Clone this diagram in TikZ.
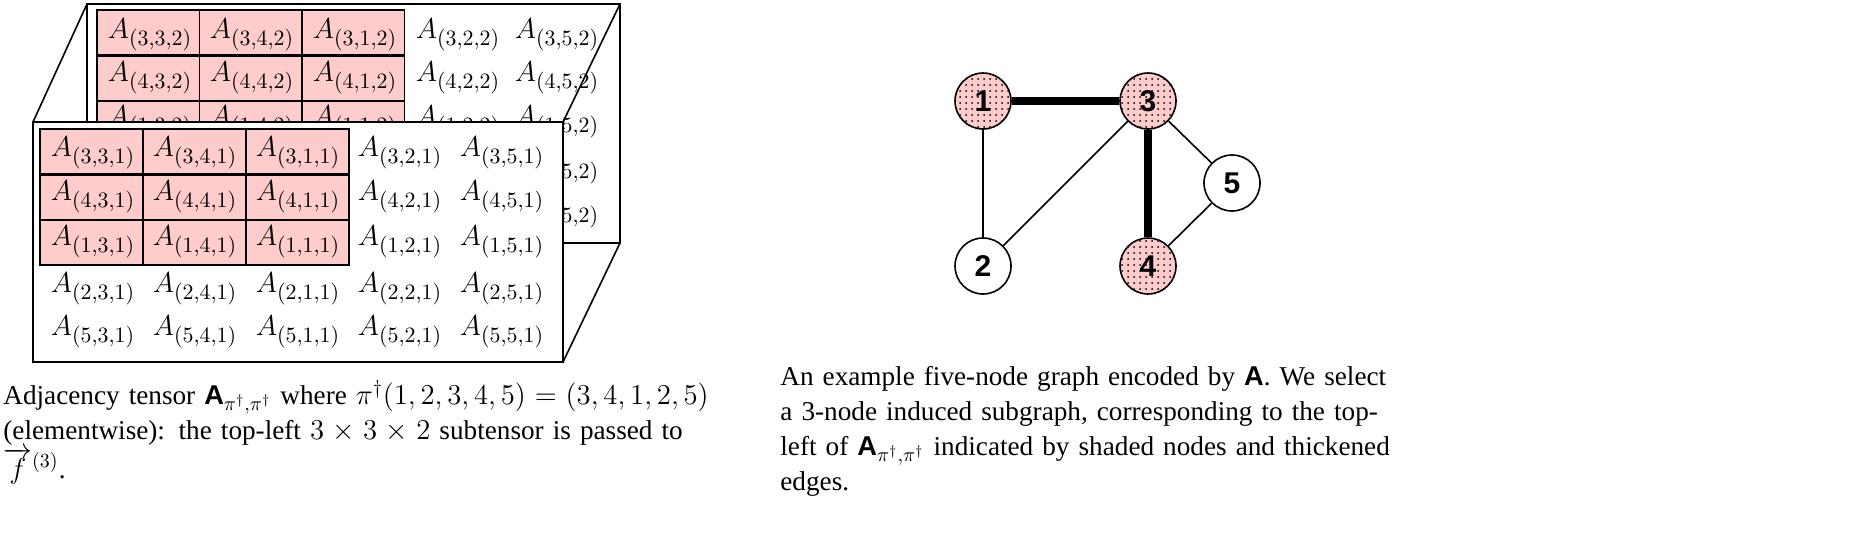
\documentclass[tikz,border=0pt]{standalone}
\usepackage{fontspec}
\usepackage{amsmath}
\setmainfont{Liberation Serif}
\setsansfont{Liberation Sans}
\usetikzlibrary{patterns}
\definecolor{shade}{RGB}{255,204,204}
\begin{document}
\begin{tikzpicture}[x=0.5pt,y=-0.5pt,
  frame/.style={draw,line width=0.8pt},
  cell/.style={draw,fill=shade,line width=0.9pt},
  ent/.style={font=\fontsize{15.5}{17}\selectfont,inner sep=0pt},
  gn/.style={circle,draw,line width=0.8pt,minimum size=28pt,inner sep=0pt,font=\fontsize{15}{15}\selectfont\sffamily\bfseries,fill=white},
  sel/.style={gn,fill=shade,postaction={pattern=dots}},
  ledge/.style={line width=0.8pt},
  hedge/.style={line width=3.6pt},
  captext/.style={font=\fontsize{13.6}{17.5}\selectfont,inner sep=0pt,anchor=north west}]
\useasboundingbox (0,0) rectangle (1855,541);
% back slice
\draw[frame,fill=white] (87,4) rectangle (620,243);
\foreach \r/\y in {0/10,1/56,2/101}{\foreach \c in {0,1,2}{
  \path[cell] (97+\c*102.5,\y) rectangle (97+\c*102.5+102.5,\y+45);}}
\foreach \i/\ri/\y in {3/1/35,4/2/78,1/3/122,2/4/168,5/5/212}{
  \foreach \j/\cj/\x in {3/1/150,4/2/252,1/3/355,2/4/458,5/5/557}{
    \node[ent] (b\ri\cj) at (\x,\y) {$A_{(\i,\j,2)}$};}}
% depth edges
\draw[frame] (33,122) -- (87,4);
\draw[frame] (563,122) -- (620,4);
\draw[frame] (563,362) -- (620,243);
% front slice
\draw[frame,fill=white] (33,122) rectangle (563,362);
\foreach \y in {129,175,220}{\foreach \c in {0,1,2}{
  \path[cell] (40+\c*103,\y) rectangle (40+\c*103+103,\y+45);}}
\foreach \i/\ri/\y in {3/1/153,4/2/197,1/3/242,2/4/289,5/5/332}{
  \foreach \j/\cj/\x in {3/1/93,4/2/195,1/3/298,2/4/400,5/5/502}{
    \node[ent] (f\ri\cj) at (\x,\y) {$A_{(\i,\j,1)}$};}}
% captions
\node[captext,text width=356pt] (lcap) at (3,380) {Adjacency tensor $\textsf{\textbf{A}}_{\pi^\dagger,\pi^\dagger}$ where $\pi^\dagger(1,2,3,4,5) = (3,4,1,2,5)$ (elementwise): the top-left $3\times3\times2$ subtensor is passed to $\overrightarrow{f}^{(3)}$.};
\node[captext,text width=316pt] (rcap) at (780,366) {An example five-node graph encoded by \textsf{\textbf{A}}. We select a 3-node induced subgraph, corresponding to the top-left of $\textsf{\textbf{A}}_{\pi^\dagger,\pi^\dagger}$ indicated by shaded nodes and thickened edges.};
% graph
\node[sel] (n1) at (983,101) {1};
\node[sel] (n3) at (1148,101) {3};
\node[gn] (n5) at (1232,183) {5};
\node[gn] (n2) at (983,266) {2};
\node[sel] (n4) at (1148,266) {4};
\draw[hedge] (n1) -- (n3);
\draw[hedge] (n3) -- (n4);
\draw[ledge] (n1) -- (n2);
\draw[ledge] (n2) -- (n3);
\draw[ledge] (n3) -- (n5);
\draw[ledge] (n5) -- (n4);
\end{tikzpicture}
\end{document}
